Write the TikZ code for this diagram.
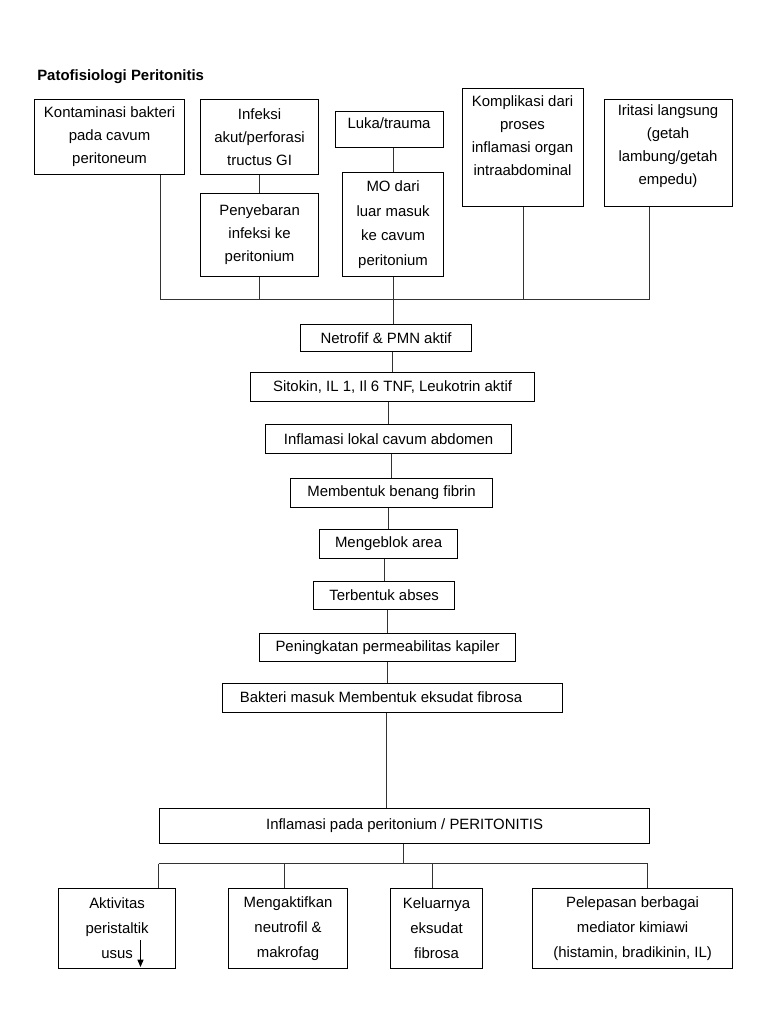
\documentclass[tikz,border=0pt]{standalone}
\usepackage{fontspec}
\setmainfont{Liberation Sans}
\usetikzlibrary{arrows.meta}
\newcommand\fsA{\fontsize{11.2}{17.25}\selectfont}
\newcommand\fsB{\fontsize{11.2}{18.75}\selectfont}
\newcommand\fsC{\fontsize{11.2}{18.4}\selectfont}
\newcommand\fsT{\fontsize{11.2}{13}\selectfont\bfseries}
\begin{document}
\begin{tikzpicture}[x=0.75pt,y=-0.75pt,
  sz/.style 2 args={minimum width=#1*0.75pt,minimum height=#2*0.75pt},
  box/.style={draw=black,line width=0.85pt,inner sep=0pt,anchor=north west,align=center,font=\fsA},
  txt/.style={inner sep=0pt,align=center,font=\fsA},
  ln/.style={draw=black!80,line width=0.8pt}]
\useasboundingbox[fill=white] (0,0) rectangle (768,1024);

% title
\node[anchor=west,inner sep=0pt,font=\fsT] (title) at (37,77) {Patofisiologi Peritonitis};

% top causes
\node[box,sz={150}{75}] (A) at (34,99) {Kontaminasi bakteri\\pada cavum\\peritoneum};
\node[box,sz={118}{75}] (B) at (200,99) {Infeksi\\akut/perforasi\\tructus GI};
\node[box,sz={118}{83}] (B2) at (200,193) {Penyebaran\\infeksi ke\\peritonium};
\node[box,sz={108}{36}] (C) at (335,111) {};
\node[txt] (tC) at (389,123) {Luka/trauma};
\node[box,sz={101}{104},font=\fsC] (C2) at (342,172) {MO dari\\luar masuk\\ke cavum\\peritonium};
\node[box,sz={121}{118}] (D) at (462,88) {};
\node[txt] (tD) at (522.5,136) {Komplikasi dari\\proses\\inflamasi organ\\intraabdominal};
\node[box,sz={128}{107}] (E) at (604,99) {};
\node[txt] (tE) at (668,146.5) {Iritasi langsung\\(getah\\lambung/getah\\empedu)};

% main chain
\node[box,sz={171}{27}] (NET) at (300,324) {Netrofif \& PMN aktif};
\node[box,sz={284}{29}] (SIT) at (250,372) {Sitokin, IL 1, Il 6 TNF, Leukotrin aktif};
\node[box,sz={246}{29}] (INF) at (265,424) {Inflamasi lokal cavum abdomen};
\node[box,sz={202}{29}] (MEM) at (290,478) {Membentuk benang fibrin};
\node[box,sz={138}{29}] (BLOK) at (319,529) {Mengeblok area};
\node[box,sz={141}{28}] (ABS) at (313,581) {Terbentuk abses};
\node[box,sz={256}{28}] (PEN) at (259,633) {Peningkatan permeabilitas kapiler};
\node[box,sz={340}{29}] (BAK) at (222,683) {};
\node[txt] (tBAK) at (381,697.5) {Bakteri masuk Membentuk eksudat fibrosa};
\node[box,sz={490}{35}] (PER) at (159,808) {Inflamasi pada peritonium / PERITONITIS};

% effects
\node[box,sz={117}{80},font=\fsB] (AKT) at (58,888) {Aktivitas\\peristaltik\\usus};
\node[box,sz={119}{80},font=\fsB] (MENG) at (228,888) {Mengaktifkan\\neutrofil \&\\makrofag};
\node[box,sz={92}{80},font=\fsB] (KEL) at (390,888) {Keluarnya\\eksudat\\fibrosa};
\node[box,sz={200}{80},font=\fsB] (PEL) at (532,888) {Pelepasan berbagai\\mediator kimiawi\\(histamin, bradikinin, IL)};

% top bus
\coordinate (busL) at (160.5,299.5);
\coordinate (busR) at (649.5,299.5);
\draw[ln] (busL) -- (busR);
\draw[ln] (A.south -| busL) -- (busL);
\draw[ln] (B.south) -- (B2.north);
\draw[ln] (B2.south) -- (B2.south |- busL);
\draw[ln] (C.south -| C2.north) -- (C2.north);
\draw[ln] (C2.south) -- (NET.north -| C2.south);
\draw[ln] (D.south) -- (D.south |- busL);
\draw[ln] (E.south -| busR) -- (busR);

% chain links
\draw[ln] (NET.south -| SIT.north) -- (SIT.north);
\draw[ln] (SIT.south -| INF.north) -- (INF.north);
\draw[ln] (INF.south -| MEM.north) -- (MEM.north);
\draw[ln] (MEM.south -| BLOK.north) -- (BLOK.north);
\draw[ln] (BLOK.south -| ABS.north) -- (ABS.north);
\draw[ln] (ABS.south -| PEN.north) -- (PEN.north);
\draw[ln] (PEN.south) -- (BAK.north -| PEN.south);
\coordinate (spine) at (386.5,760);
\draw[ln] (BAK.south -| spine) -- (PER.north -| spine);

% bottom bus
\coordinate (bbL) at (158.5,863.5);
\coordinate (bbR) at (647.5,863.5);
\coordinate (bbP) at (403.5,863.5);
\coordinate (bbM) at (284.5,863.5);
\coordinate (bbK) at (432.5,863.5);
\draw[ln] (PER.south -| bbP) -- (bbP);
\draw[ln] (bbL) -- (bbR);
\draw[ln] (bbL) -- (AKT.north -| bbL);
\draw[ln] (bbM) -- (MENG.north -| bbM);
\draw[ln] (bbK) -- (KEL.north -| bbK);
\draw[ln] (bbR) -- (PEL.north -| bbR);

% down arrow after "usus"
\coordinate (arT) at (140.5,940);
\coordinate (arB) at (140.5,967);
\draw[ln,draw=black,-{Triangle[length=5.5pt,width=4.5pt]}] (arT) -- (arB);
\end{tikzpicture}
\end{document}
